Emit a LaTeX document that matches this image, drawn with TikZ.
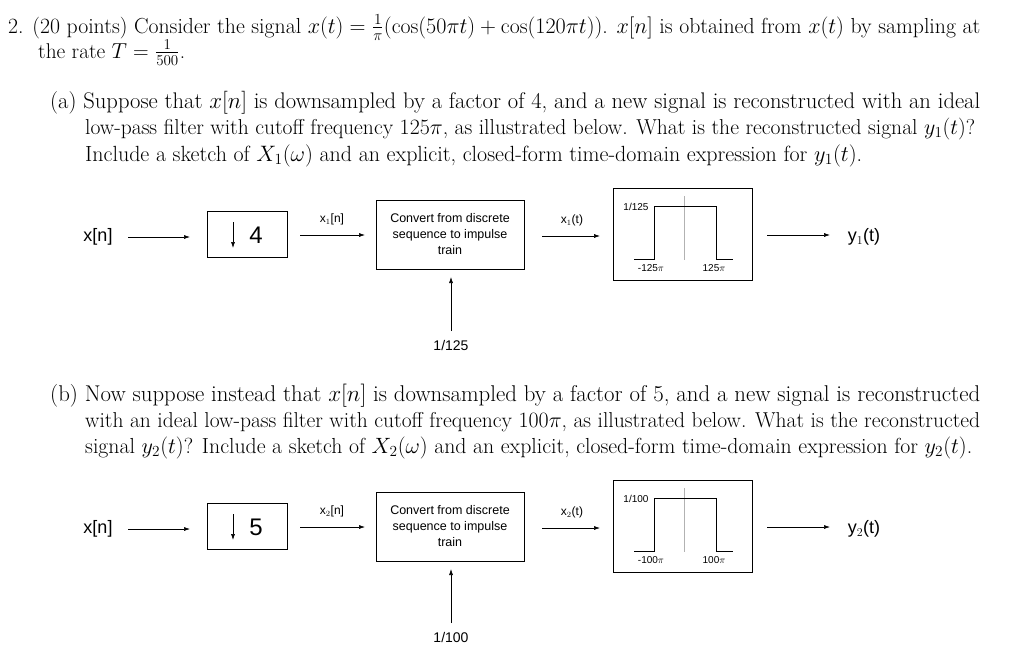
\documentclass[tikz,border=0pt]{standalone}
\usepackage{fontspec}
\setsansfont{Liberation Sans}
\usetikzlibrary{arrows.meta}
\newcommand{\mainfs}{\fontsize{17}{20}\selectfont}
\newcommand{\tl}[4]{\node[anchor=base west,inner sep=0] at (#1,#2) {\resizebox{#3pt}{!}{\mainfs #4}};}
\begin{document}
\begin{tikzpicture}[x=1pt,y=-1pt,
  blk/.style={draw,thick,inner sep=0,font=\sffamily},
  arr/.style={-{Latex[length=6pt,width=4pt]},line width=0.6pt},
  lab/.style={font=\sffamily\fontsize{12}{13}\selectfont,inner sep=1pt},
  small/.style={font=\sffamily\fontsize{10}{11}\selectfont,inner sep=1pt}]
\useasboundingbox (0,0) rectangle (1024,653);
% text
\tl{8}{33}{972}{2. (20 points) Consider the signal $x(t)=\frac{1}{\pi}(\cos(50\pi t)+\cos(120\pi t))$. $x[n]$ is obtained from $x(t)$ by sampling at}
\tl{38}{58}{147}{the rate $T=\frac{1}{500}$.}
\tl{50}{108}{930}{(a) Suppose that $x[n]$ is downsampled by a factor of 4, and a new signal is reconstructed with an ideal}
\tl{85}{134}{890}{low-pass filter with cutoff frequency $125\pi$, as illustrated below. What is the reconstructed signal $y_1(t)$?}
\tl{85}{161}{777}{Include a sketch of $X_1(\omega)$ and an explicit, closed-form time-domain expression for $y_1(t)$.}
\tl{50}{401}{930}{(b) Now suppose instead that $x[n]$ is downsampled by a factor of 5, and a new signal is reconstructed}
\tl{85}{427}{895}{with an ideal low-pass filter with cutoff frequency $100\pi$, as illustrated below. What is the reconstructed}
\tl{85}{453}{887}{signal $y_2(t)$? Include a sketch of $X_2(\omega)$ and an explicit, closed-form time-domain expression for $y_2(t)$.}
% diagrams
\foreach \dy/\k/\c/\dd in {0/1/125/4,292/2/100/5}{
\begin{scope}[yshift=-\dy pt]
\node[font=\sffamily\fontsize{18}{19}\selectfont] (xn\k) at (98,237) {x[n]};
\node[blk,minimum width=80pt,minimum height=46pt] (ds\k) at (247,234) {};
\draw[arr] (233,222) -- (233,248);
\node[font=\sffamily\fontsize{24}{26}\selectfont] at (256,235) {\dd};
\node[blk,minimum width=148pt,minimum height=69pt,align=center,font=\sffamily\fontsize{12.5}{16}\selectfont] (cv\k) at (450,234.5) {Convert from discrete\\sequence to impulse\\train};
\node[blk,minimum width=139pt,minimum height=92pt] (lp\k) at (682.5,234) {};
\node[font=\sffamily\fontsize{18}{19}\selectfont] (y\k) at (864,237) {y$_{\k}$(t)};
\node[font=\sffamily\fontsize{14}{15}\selectfont] (T\k) at (451,345) {1/\c};
\coordinate (a1) at (128,237); \coordinate (a2) at (190,237);
\draw[arr] (a1) -- (a2);
\coordinate (b1) at (300,235); \coordinate (b2) at (365,235);
\draw[arr] (b1) -- (b2);
\node[lab,above] at (332,226) {x$_{\k}$[n]};
\coordinate (c1) at (542,236); \coordinate (c2) at (600,236);
\draw[arr] (c1) -- (c2);
\node[lab,above] at (572,227) {x$_{\k}$(t)};
\coordinate (d1) at (767,235); \coordinate (d2) at (830,235);
\draw[arr] (d1) -- (d2);
\coordinate (e1) at (451,331); \coordinate (e2) at (451,277);
\draw[arr] (e1) -- (e2);
\draw[gray!60,line width=0.4pt] (684,196) -- (684,260);
\draw[line width=0.6pt] (634,259) -- (654,259) -- (654,206) -- (716,206) -- (716,259) -- (733,259);
\node[small] at (636,207) {1/\c};
\node[small] at (651,268) {-\c$\pi$};
\node[small] at (714,268) {\c$\pi$};
\end{scope}}
\end{tikzpicture}
\end{document}
